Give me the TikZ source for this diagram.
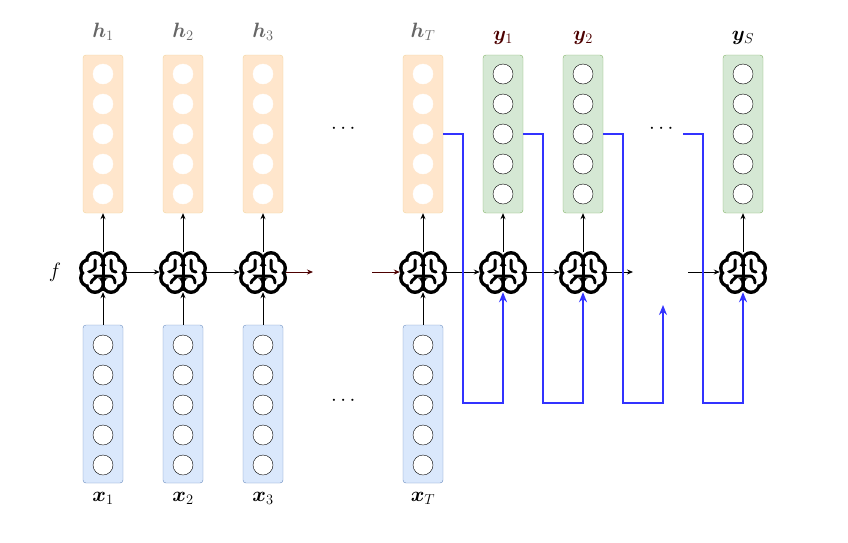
\documentclass[tikz,border=0pt]{standalone}
\usepackage{amsmath,bm}
\usetikzlibrary{arrows.meta}
\definecolor{hfill}{HTML}{FFE6CC}\definecolor{hdraw}{HTML}{F2D39B}
\definecolor{yfill}{HTML}{D5E8D4}\definecolor{ydraw}{HTML}{82B366}
\definecolor{xfill}{HTML}{DAE8FC}\definecolor{xdraw}{HTML}{6C8EBF}
\definecolor{skip}{HTML}{3333FF}\definecolor{dred}{HTML}{4C0000}
\definecolor{hgray}{HTML}{666666}
\tikzset{
  vec/.style={draw,rounded corners=3pt,minimum width=40pt,minimum height=158pt,inner sep=0pt},
  hvec/.style={vec,fill=hfill,draw=hdraw},
  yvec/.style={vec,fill=yfill,draw=ydraw},
  xvec/.style={vec,fill=xfill,draw=xdraw},
  unit/.style={circle,draw=black,fill=white,minimum size=20pt,inner sep=0pt},
  hunit/.style={unit,draw=white},
  cell/.style={minimum width=46pt,minimum height=40pt,inner sep=0pt},
  arr/.style={-{Stealth[length=6pt,width=5pt]},line width=0.8pt},
  skiparr/.style={-{Stealth[length=10pt,width=8pt]},draw=skip,line width=1.5pt},
  lab/.style={font=\fontsize{22}{26}\selectfont},
  pics/brain/.style={code={
    \foreach \s in {-1,1}{
      \foreach \p in {(8*\s,-11),(14*\s,-4),(14*\s,6),(8*\s,12),(5*\s,0)}
        \fill[black] \p circle (10);}
    \foreach \s in {-1,1}{
      \foreach \p in {(8*\s,-11),(14*\s,-4),(14*\s,6),(8*\s,12),(5*\s,0)}
        \fill[white] \p circle (6.5);}
    \draw[line width=3pt] (0,-15) -- (0,19);
    \foreach \s in {-1,1}{
      \draw[line width=3pt,line cap=round] (0,4) -- (7*\s,4) to[out=0,in=90] (12*\s,11);
      \draw[line width=3pt,line cap=round] (8*\s,-12) -- (8*\s,-4) to[out=-90,in=180] (13*\s,0);}
  }}
}
\begin{document}
\begin{tikzpicture}[x=1pt,y=-1pt]
\useasboundingbox (0,0) rectangle (848,542);
% encoder
\foreach \i/\x/\t in {1/103/1,2/183/2,3/263/3,4/423/T}{
  \node[hvec] (h\i) at (\x,134) {};
  \node[xvec] (x\i) at (\x,404) {};
  \foreach \k in {0,...,4}{
    \node[hunit] (h\i u\k) at (\x,74+30*\k) {};
    \node[unit] (x\i u\k) at (\x,345+30*\k) {};}
  \node[cell] (b\i) at (\x,272) {};
  \pic at (\x,272) {brain};
  \node[lab,text=hgray] (lh\i) at (\x,32) {$\bm{h}_{\t}$};
  \node[lab] (lx\i) at (\x,498) {$\bm{x}_{\t}$};
  \draw[arr] (b\i) -- (h\i);
  \draw[arr] (x\i) -- (b\i);
}
% decoder
\foreach \i/\x/\t/\c in {5/503/1/dred,6/583/2/dred,8/743/S/black}{
  \node[yvec] (y\i) at (\x,134) {};
  \foreach \k in {0,...,4}
    \node[unit] (y\i u\k) at (\x,74+30*\k) {};
  \node[cell] (b\i) at (\x,272) {};
  \pic at (\x,272) {brain};
  \node[lab,text=\c] (ly\i) at (\x,38) {$\bm{y}_{\t}$};
  \draw[arr] (b\i) -- (y\i);
}
\node[lab] (f) at (55,272) {$f$};
\node[lab] (dh) at (345,129) {$\cdots$};
\node[lab] (dx) at (345,401) {$\cdots$};
\node[lab] (dy) at (663,129) {$\cdots$};
\coordinate (gap7) at (663,305);
\coordinate (o3) at (313,272);
\coordinate (i4) at (372,272);
\coordinate (o6) at (633,272);
\coordinate (i8) at (688,272);
\draw[arr] (b1) -- (b2);
\draw[arr] (b2) -- (b3);
\draw[arr,dred] (b3) -- (o3);
\draw[arr,dred] (i4) -- (b4);
\draw[arr] (b4) -- (b5);
\draw[arr] (b5) -- (b6);
\draw[arr] (b6) -- (o6);
\draw[arr] (i8) -- (b8);
% skip connections
\draw[skiparr] (h4u2.east -| h4.east) -- ++(20,0) |- (483,403) -| (b5.south);
\draw[skiparr] (y5u2.east -| y5.east) -- ++(20,0) |- (563,403) -| (b6.south);
\draw[skiparr] (y6u2.east -| y6.east) -- ++(20,0) |- (643,403) -| (gap7);
\draw[skiparr] (683,134) -- (703,134) |- (723,403) -| (b8.south);
\end{tikzpicture}
\end{document}
